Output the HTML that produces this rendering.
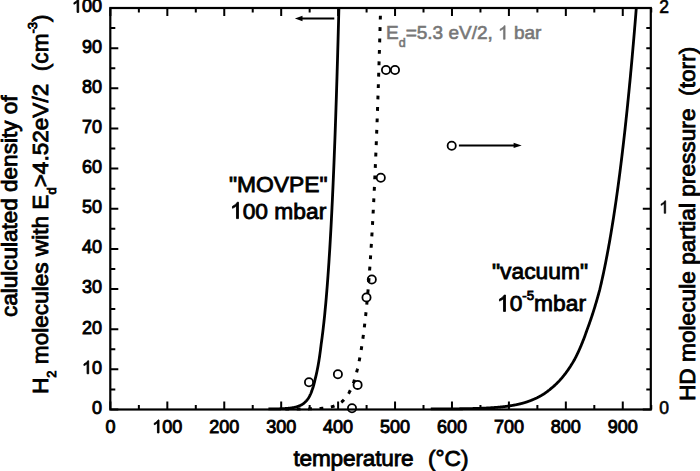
<!DOCTYPE html>
<html><head><meta charset="utf-8"><style>
html,body{margin:0;padding:0;background:#fff;width:700px;height:471px;overflow:hidden}
svg{display:block}
text{font-family:"Liberation Sans", sans-serif}
.s{stroke:#000;stroke-width:0.5}
</style></head><body>
<svg width="700" height="471" viewBox="0 0 700 471" font-family='"Liberation Sans", sans-serif'>
<rect x="110.3" y="8" width="540.50" height="401.5" fill="none" stroke="#000" stroke-width="2.2"/>
<path d="M110.40,409.5 V401.5 M110.40,8 V16 M138.87,409.5 V405.0 M138.87,8 V12.5 M167.33,409.5 V401.5 M167.33,8 V16 M195.80,409.5 V405.0 M195.80,8 V12.5 M224.26,409.5 V401.5 M224.26,8 V16 M252.73,409.5 V405.0 M252.73,8 V12.5 M281.19,409.5 V401.5 M281.19,8 V16 M309.66,409.5 V405.0 M309.66,8 V12.5 M338.12,409.5 V401.5 M338.12,8 V16 M366.59,409.5 V405.0 M366.59,8 V12.5 M395.05,409.5 V401.5 M395.05,8 V16 M423.51,409.5 V405.0 M423.51,8 V12.5 M451.98,409.5 V401.5 M451.98,8 V16 M480.45,409.5 V405.0 M480.45,8 V12.5 M508.91,409.5 V401.5 M508.91,8 V16 M537.38,409.5 V405.0 M537.38,8 V12.5 M565.84,409.5 V401.5 M565.84,8 V16 M594.31,409.5 V405.0 M594.31,8 V12.5 M622.77,409.5 V401.5 M622.77,8 V16 M651.24,409.5 V405.0 M651.24,8 V12.5 M110.3,409.50 H118.3 M110.3,389.43 H115.3 M110.3,369.35 H118.3 M110.3,349.27 H115.3 M110.3,329.20 H118.3 M110.3,309.12 H115.3 M110.3,289.05 H118.3 M110.3,268.98 H115.3 M110.3,248.90 H118.3 M110.3,228.83 H115.3 M110.3,208.75 H118.3 M110.3,188.68 H115.3 M110.3,168.60 H118.3 M110.3,148.53 H115.3 M110.3,128.45 H118.3 M110.3,108.38 H115.3 M110.3,88.30 H118.3 M110.3,68.23 H115.3 M110.3,48.15 H118.3 M110.3,28.08 H115.3 M110.3,8.00 H118.3 M650.8,409.50 H642.8 M650.8,389.43 H646.3 M650.8,369.35 H646.3 M650.8,349.27 H646.3 M650.8,329.20 H646.3 M650.8,309.12 H646.3 M650.8,289.05 H646.3 M650.8,268.98 H646.3 M650.8,248.90 H646.3 M650.8,228.82 H646.3 M650.8,208.75 H642.8 M650.8,188.68 H646.3 M650.8,168.60 H646.3 M650.8,148.52 H646.3 M650.8,128.45 H646.3 M650.8,108.38 H646.3 M650.8,88.30 H646.3 M650.8,68.23 H646.3 M650.8,48.15 H646.3 M650.8,28.07 H646.3 M650.8,8.00 H642.8" stroke="#000" stroke-width="2" fill="none"/>
<g font-size="18" fill="#000" stroke="#000" stroke-width="0.9"><text x="110.40" y="432.90" text-anchor="middle">0</text><text x="167.33" y="432.90" text-anchor="middle"> 00</text><path transform="translate(152.31,432.90) scale(0.00879,-0.00879)" stroke-width="102.4" d="M763,0H583V1147Q518,1085 412.5,1023T223,930V1104Q375,1175 489,1276T650,1472H763Z"/><text x="224.26" y="432.90" text-anchor="middle">200</text><text x="281.19" y="432.90" text-anchor="middle">300</text><text x="338.12" y="432.90" text-anchor="middle">400</text><text x="395.05" y="432.90" text-anchor="middle">500</text><text x="451.98" y="432.90" text-anchor="middle">600</text><text x="508.91" y="432.90" text-anchor="middle">700</text><text x="565.84" y="432.90" text-anchor="middle">800</text><text x="622.77" y="432.90" text-anchor="middle">900</text><text x="102.00" y="413.90" text-anchor="end">0</text><text x="102.00" y="373.75" text-anchor="end"> 0</text><path transform="translate(81.98,373.75) scale(0.00879,-0.00879)" stroke-width="102.4" d="M763,0H583V1147Q518,1085 412.5,1023T223,930V1104Q375,1175 489,1276T650,1472H763Z"/><text x="102.00" y="333.60" text-anchor="end">20</text><text x="102.00" y="293.45" text-anchor="end">30</text><text x="102.00" y="253.30" text-anchor="end">40</text><text x="102.00" y="213.15" text-anchor="end">50</text><text x="102.00" y="173.00" text-anchor="end">60</text><text x="102.00" y="132.85" text-anchor="end">70</text><text x="102.00" y="92.70" text-anchor="end">80</text><text x="102.00" y="52.55" text-anchor="end">90</text><text x="102.00" y="12.40" text-anchor="end"> 00</text><path transform="translate(71.97,12.40) scale(0.00879,-0.00879)" stroke-width="102.4" d="M763,0H583V1147Q518,1085 412.5,1023T223,930V1104Q375,1175 489,1276T650,1472H763Z"/></g>
<g font-size="17.5" fill="#000" stroke="#000" stroke-width="0.6"><text x="659.20" y="414.10" text-anchor="start">0</text><text x="659.20" y="213.35" text-anchor="start"> </text><path transform="translate(659.20,213.35) scale(0.00854,-0.00854)" stroke-width="70.2" d="M763,0H583V1147Q518,1085 412.5,1023T223,930V1104Q375,1175 489,1276T650,1472H763Z"/><text x="659.20" y="12.60" text-anchor="start">2</text></g>
<g font-size="22.8" fill="#000" stroke="#000" stroke-width="0.85"><text x="293.4" y="466" font-size="22.6" textLength="120.3" lengthAdjust="spacing">temperature</text><text x="428" y="466" font-size="22.6">(°C)</text><text transform="translate(16.9,206.3) rotate(-90)" font-size="22.5" text-anchor="middle">calulculated density of</text><text transform="translate(48.2,204.2) rotate(-90)" font-size="22.6" text-anchor="middle">H<tspan font-size="13" dy="8">2</tspan><tspan dy="-8"> molecules with E</tspan><tspan font-size="13" dy="8">d</tspan><tspan dy="-8">&gt;4.52eV/2&#160;&#160;(cm</tspan><tspan font-size="13" dy="-11">-3</tspan><tspan dy="11">)</tspan></text><text transform="translate(695.2,223.9) rotate(-90)" font-size="22.7" text-anchor="middle">HD molecule partial pressure&#160;&#160;(torr)</text><text x="229" y="191.6">"MOVPE"</text><text x="230.00" y="218.60" text-anchor="start"> 00 mbar</text><path transform="translate(230.00,218.60) scale(0.01113,-0.01113)" stroke-width="76.4" d="M763,0H583V1147Q518,1085 412.5,1023T223,930V1104Q375,1175 489,1276T650,1472H763Z"/><text x="492" y="279">"vacuum"</text><text x="497" y="311.4"> 0<tspan font-size="13.2" dy="-11.5">-5</tspan><tspan dy="11.5">mbar</tspan></text><path transform="translate(497.00,311.40) scale(0.01113,-0.01113)" stroke-width="76.4" d="M763,0H583V1147Q518,1085 412.5,1023T223,930V1104Q375,1175 489,1276T650,1472H763Z"/></g>
<path d="M268.40,408.96 L268.68,408.96 L268.97,408.95 L269.25,408.95 L269.54,408.95 L269.82,408.95 L270.11,408.94 L270.39,408.94 L270.68,408.94 L270.96,408.94 L271.25,408.93 L271.53,408.93 L271.82,408.93 L272.11,408.93 L272.39,408.92 L272.67,408.92 L272.96,408.91 L273.25,408.91 L273.53,408.91 L273.81,408.90 L274.10,408.90 L274.38,408.90 L274.67,408.89 L274.95,408.89 L275.24,408.88 L275.52,408.88 L275.81,408.87 L276.10,408.87 L276.38,408.86 L276.66,408.85 L276.95,408.85 L277.24,408.84 L277.52,408.84 L277.80,408.83 L278.09,408.82 L278.38,408.81 L278.66,408.81 L278.94,408.80 L279.23,408.79 L279.51,408.78 L279.80,408.77 L280.08,408.76 L280.37,408.75 L280.65,408.74 L280.94,408.73 L281.23,408.72 L281.51,408.71 L281.79,408.70 L282.08,408.69 L282.37,408.67 L282.65,408.66 L282.93,408.65 L283.22,408.63 L283.50,408.62 L283.79,408.60 L284.07,408.59 L284.36,408.57 L284.64,408.55 L284.93,408.54 L285.21,408.52 L285.50,408.50 L285.78,408.48 L286.07,408.46 L286.36,408.44 L286.64,408.42 L286.92,408.39 L287.21,408.37 L287.50,408.34 L287.78,408.32 L288.06,408.29 L288.35,408.26 L288.63,408.24 L288.92,408.21 L289.20,408.18 L289.49,408.14 L289.77,408.11 L290.06,408.08 L290.35,408.04 L290.63,408.01 L290.91,407.97 L291.19,407.93 L291.47,407.89 L291.75,407.84 L292.03,407.80 L292.31,407.76 L292.59,407.71 L292.87,407.66 L293.15,407.61 L293.42,407.56 L293.70,407.50 L293.98,407.45 L294.26,407.39 L294.54,407.33 L294.81,407.27 L295.09,407.20 L295.37,407.13 L295.64,407.06 L295.92,406.99 L296.19,406.92 L296.47,406.84 L296.75,406.76 L297.02,406.68 L297.29,406.59 L297.57,406.51 L297.84,406.41 L298.12,406.32 L298.39,406.22 L298.66,406.12 L298.93,406.02 L299.20,405.91 L299.47,405.80 L299.75,405.68 L300.02,405.56 L300.28,405.44 L300.55,405.31 L300.82,405.18 L301.09,405.04 L301.36,404.90 L301.62,404.75 L301.89,404.60 L302.16,404.44 L302.42,404.28 L302.68,404.11 L302.95,403.94 L303.20,403.76 L303.46,403.57 L303.71,403.38 L303.96,403.18 L304.22,402.98 L304.47,402.77 L304.72,402.55 L304.97,402.32 L305.21,402.09 L305.46,401.85 L305.71,401.60 L305.95,401.34 L306.19,401.08 L306.43,400.80 L306.67,400.52 L306.91,400.23 L307.15,399.93 L307.38,399.61 L307.62,399.29 L307.85,398.96 L308.09,398.62 L308.33,398.26 L308.56,397.89 L308.80,397.52 L309.03,397.13 L309.26,396.72 L309.49,396.31 L309.72,395.88 L309.94,395.43 L310.17,394.98 L310.39,394.50 L310.61,394.02 L310.83,393.51 L311.04,392.99 L311.26,392.46 L311.47,391.91 L311.68,391.34 L311.88,390.75 L312.09,390.14 L312.31,389.52 L312.54,388.87 L312.76,388.21 L312.98,387.52 L313.21,386.81 L313.42,386.08 L313.64,385.33 L313.85,384.55 L314.07,383.75 L314.28,382.92 L314.48,382.07 L314.69,381.19 L314.89,380.29 L315.09,379.36 L315.33,378.40 L315.58,377.40 L315.83,376.38 L316.09,375.33 L316.34,374.24 L316.59,373.13 L316.84,371.97 L317.09,370.79 L317.33,369.56 L317.58,368.30 L317.83,367.00 L318.07,365.66 L318.32,364.29 L318.56,362.86 L318.80,361.40 L319.05,359.89 L319.29,358.34 L319.53,356.74 L319.76,355.10 L320.00,353.40 L320.24,351.65 L320.47,349.85 L320.70,348.00 L320.93,346.09 L321.18,344.13 L321.47,342.11 L321.75,340.03 L322.04,337.88 L322.32,335.68 L322.61,333.40 L322.89,331.07 L323.18,328.66 L323.46,326.18 L323.75,323.63 L324.03,321.01 L324.32,318.31 L324.61,315.53 L324.89,312.67 L325.17,309.73 L325.46,306.70 L325.75,303.59 L326.03,300.39 L326.31,297.09 L326.60,293.70 L326.88,290.21 L327.17,286.62 L327.45,282.93 L327.74,279.13 L328.02,275.23 L328.31,271.21 L328.59,267.08 L328.88,262.83 L329.16,258.46 L329.45,253.97 L329.74,249.35 L330.02,244.60 L330.30,239.72 L330.59,234.70 L330.88,229.54 L331.16,224.24 L331.44,218.78 L331.73,213.17 L332.01,207.41 L332.30,201.49 L332.58,195.40 L332.87,189.14 L333.15,182.71 L333.44,176.10 L333.73,169.31 L334.01,162.33 L334.29,155.16 L334.58,147.79 L334.87,140.22 L335.15,132.45 L335.43,124.46 L335.72,116.25 L336.00,107.81 L336.29,99.15 L336.57,90.25 L336.86,81.11 L337.14,71.72 L337.43,62.08 L337.71,52.17 L338.00,42.00 L338.28,31.56 L338.57,20.83 L338.86,9.81 L338.90,8.00" fill="none" stroke="#000" stroke-width="2.8"/>
<path d="M430.78,408.96 L431.06,408.96 L431.35,408.96 L431.63,408.96 L431.92,408.96 L432.20,408.96 L432.49,408.96 L432.77,408.95 L433.06,408.95 L433.34,408.95 L433.63,408.95 L433.91,408.95 L434.20,408.95 L434.48,408.95 L434.77,408.95 L435.05,408.95 L435.34,408.95 L435.62,408.95 L435.91,408.95 L436.19,408.94 L436.48,408.94 L436.76,408.94 L437.05,408.94 L437.33,408.94 L437.62,408.94 L437.90,408.94 L438.19,408.94 L438.47,408.94 L438.76,408.93 L439.04,408.93 L439.33,408.93 L439.61,408.93 L439.90,408.93 L440.18,408.93 L440.47,408.93 L440.75,408.93 L441.04,408.92 L441.32,408.92 L441.61,408.92 L441.89,408.92 L442.17,408.92 L442.46,408.92 L442.74,408.92 L443.03,408.91 L443.31,408.91 L443.60,408.91 L443.88,408.91 L444.17,408.91 L444.45,408.91 L444.74,408.91 L445.02,408.90 L445.31,408.90 L445.59,408.90 L445.88,408.90 L446.16,408.90 L446.45,408.89 L446.73,408.89 L447.02,408.89 L447.30,408.89 L447.59,408.89 L447.87,408.89 L448.16,408.88 L448.44,408.88 L448.72,408.88 L449.01,408.88 L449.29,408.88 L449.58,408.87 L449.86,408.87 L450.15,408.87 L450.43,408.87 L450.72,408.86 L451.00,408.86 L451.29,408.86 L451.57,408.86 L451.86,408.85 L452.14,408.85 L452.43,408.85 L452.71,408.85 L453.00,408.84 L453.28,408.84 L453.56,408.84 L453.85,408.84 L454.13,408.83 L454.42,408.83 L454.70,408.83 L454.99,408.83 L455.27,408.82 L455.56,408.82 L455.84,408.82 L456.13,408.81 L456.41,408.81 L456.70,408.81 L456.98,408.80 L457.27,408.80 L457.55,408.80 L457.83,408.79 L458.12,408.79 L458.40,408.79 L458.69,408.78 L458.97,408.78 L459.26,408.78 L459.54,408.77 L459.83,408.77 L460.11,408.77 L460.40,408.76 L460.68,408.76 L460.96,408.75 L461.25,408.75 L461.53,408.75 L461.82,408.74 L462.10,408.74 L462.39,408.73 L462.67,408.73 L462.96,408.72 L463.24,408.72 L463.52,408.72 L463.81,408.71 L464.09,408.71 L464.38,408.70 L464.66,408.70 L464.95,408.69 L465.23,408.69 L465.52,408.68 L465.80,408.68 L466.08,408.67 L466.37,408.67 L466.65,408.66 L466.94,408.66 L467.22,408.65 L467.51,408.64 L467.79,408.64 L468.07,408.63 L468.36,408.63 L468.64,408.62 L468.93,408.62 L469.21,408.61 L469.50,408.60 L469.78,408.60 L470.06,408.59 L470.35,408.58 L470.63,408.58 L470.92,408.57 L471.20,408.56 L471.48,408.56 L471.77,408.55 L472.05,408.54 L472.34,408.54 L472.62,408.53 L472.91,408.52 L473.19,408.51 L473.47,408.51 L473.76,408.50 L474.04,408.49 L474.33,408.48 L474.61,408.48 L474.89,408.47 L475.18,408.46 L475.46,408.45 L475.75,408.44 L476.03,408.43 L476.31,408.42 L476.60,408.42 L476.88,408.41 L477.16,408.40 L477.45,408.39 L477.73,408.38 L478.02,408.37 L478.30,408.36 L478.58,408.35 L478.87,408.34 L479.15,408.33 L479.44,408.32 L479.72,408.31 L480.00,408.30 L480.29,408.29 L480.57,408.28 L480.85,408.27 L481.14,408.26 L481.42,408.25 L481.70,408.23 L481.99,408.22 L482.27,408.21 L482.55,408.20 L482.84,408.19 L483.12,408.17 L483.41,408.16 L483.69,408.15 L483.97,408.14 L484.26,408.12 L484.54,408.11 L484.82,408.10 L485.11,408.08 L485.39,408.07 L485.67,408.06 L485.96,408.04 L486.24,408.03 L486.52,408.01 L486.81,408.00 L487.09,407.99 L487.37,407.97 L487.65,407.96 L487.94,407.94 L488.22,407.92 L488.50,407.91 L488.79,407.89 L489.07,407.88 L489.35,407.86 L489.64,407.84 L489.92,407.83 L490.20,407.81 L490.48,407.79 L490.77,407.77 L491.05,407.76 L491.33,407.74 L491.62,407.72 L491.90,407.70 L492.18,407.68 L492.46,407.66 L492.75,407.64 L493.03,407.62 L493.31,407.61 L493.59,407.59 L493.88,407.56 L494.16,407.54 L494.44,407.52 L494.72,407.50 L495.01,407.48 L495.29,407.46 L495.57,407.44 L495.85,407.41 L496.13,407.39 L496.42,407.37 L496.70,407.35 L496.98,407.32 L497.26,407.30 L497.54,407.27 L497.83,407.25 L498.11,407.23 L498.39,407.20 L498.67,407.17 L498.95,407.15 L499.24,407.12 L499.52,407.10 L499.80,407.07 L500.08,407.04 L500.36,407.02 L500.64,406.99 L500.92,406.96 L501.21,406.93 L501.49,406.90 L501.77,406.87 L502.05,406.84 L502.33,406.81 L502.61,406.78 L502.89,406.75 L503.18,406.72 L503.46,406.69 L503.74,406.66 L504.02,406.62 L504.30,406.59 L504.58,406.56 L504.86,406.52 L505.14,406.49 L505.42,406.46 L505.70,406.42 L505.98,406.39 L506.26,406.35 L506.54,406.31 L506.82,406.28 L507.10,406.24 L507.39,406.20 L507.67,406.16 L507.95,406.12 L508.23,406.08 L508.51,406.05 L508.79,406.00 L509.06,405.96 L509.34,405.92 L509.62,405.88 L509.90,405.84 L510.18,405.80 L510.45,405.75 L510.73,405.71 L511.01,405.66 L511.29,405.62 L511.56,405.57 L511.84,405.53 L512.12,405.48 L512.40,405.43 L512.67,405.39 L512.95,405.34 L513.23,405.29 L513.50,405.24 L513.78,405.19 L514.06,405.14 L514.33,405.09 L514.61,405.04 L514.89,404.98 L515.16,404.93 L515.44,404.87 L515.71,404.82 L515.99,404.76 L516.26,404.71 L516.54,404.65 L516.82,404.59 L517.09,404.54 L517.37,404.48 L517.64,404.42 L517.92,404.36 L518.19,404.30 L518.47,404.24 L518.74,404.17 L519.01,404.11 L519.29,404.05 L519.56,403.98 L519.84,403.92 L520.11,403.85 L520.39,403.78 L520.66,403.71 L520.93,403.65 L521.21,403.58 L521.48,403.51 L521.75,403.43 L522.03,403.36 L522.30,403.29 L522.57,403.22 L522.84,403.14 L523.12,403.07 L523.39,402.99 L523.66,402.91 L523.93,402.83 L524.20,402.75 L524.48,402.67 L524.75,402.59 L525.02,402.51 L525.29,402.43 L525.56,402.34 L525.83,402.26 L526.10,402.17 L526.37,402.09 L526.64,402.00 L526.91,401.91 L527.18,401.82 L527.45,401.73 L527.72,401.63 L527.99,401.54 L528.26,401.45 L528.53,401.35 L528.80,401.26 L529.07,401.16 L529.34,401.06 L529.60,400.96 L529.87,400.86 L530.14,400.76 L530.41,400.65 L530.68,400.55 L530.94,400.44 L531.21,400.33 L531.48,400.23 L531.74,400.12 L532.01,400.01 L532.29,399.89 L532.57,399.78 L532.85,399.66 L533.13,399.55 L533.41,399.43 L533.69,399.31 L533.97,399.19 L534.25,399.07 L534.53,398.95 L534.81,398.82 L535.09,398.70 L535.37,398.57 L535.64,398.44 L535.92,398.31 L536.20,398.18 L536.48,398.05 L536.76,397.91 L537.04,397.78 L537.32,397.64 L537.60,397.50 L537.88,397.36 L538.15,397.22 L538.43,397.08 L538.71,396.93 L538.99,396.78 L539.27,396.63 L539.55,396.48 L539.82,396.33 L540.10,396.18 L540.38,396.02 L540.66,395.87 L540.93,395.71 L541.21,395.55 L541.49,395.38 L541.77,395.22 L542.05,395.05 L542.32,394.89 L542.60,394.72 L542.88,394.55 L543.15,394.37 L543.43,394.20 L543.71,394.02 L543.99,393.84 L544.26,393.66 L544.54,393.48 L544.82,393.29 L545.09,393.10 L545.37,392.91 L545.64,392.72 L545.92,392.53 L546.20,392.33 L546.47,392.14 L546.75,391.94 L547.02,391.73 L547.30,391.53 L547.58,391.32 L547.85,391.11 L548.13,390.90 L548.40,390.69 L548.68,390.48 L548.95,390.26 L549.23,390.04 L549.50,389.81 L549.78,389.59 L550.05,389.36 L550.33,389.13 L550.61,388.90 L550.90,388.67 L551.19,388.43 L551.49,388.19 L551.78,387.95 L552.07,387.70 L552.37,387.45 L552.66,387.20 L552.96,386.95 L553.25,386.69 L553.54,386.44 L553.84,386.18 L554.13,385.91 L554.43,385.65 L554.72,385.38 L555.01,385.10 L555.31,384.83 L555.60,384.55 L555.90,384.27 L556.19,383.99 L556.49,383.70 L556.78,383.41 L557.08,383.12 L557.37,382.82 L557.67,382.52 L557.96,382.22 L558.26,381.91 L558.56,381.60 L558.85,381.29 L559.15,380.98 L559.44,380.66 L559.74,380.34 L560.03,380.01 L560.33,379.68 L560.63,379.35 L560.92,379.02 L561.22,378.68 L561.52,378.34 L561.81,377.99 L562.11,377.64 L562.41,377.29 L562.71,376.93 L563.00,376.57 L563.30,376.21 L563.60,375.84 L563.90,375.47 L564.19,375.09 L564.49,374.71 L564.79,374.33 L565.09,373.94 L565.39,373.55 L565.69,373.16 L565.99,372.76 L566.28,372.35 L566.58,371.95 L566.88,371.54 L567.18,371.12 L567.48,370.70 L567.78,370.28 L568.08,369.85 L568.38,369.42 L568.68,368.98 L568.98,368.54 L569.28,368.09 L569.58,367.64 L569.88,367.19 L570.18,366.73 L570.48,366.26 L570.79,365.80 L571.09,365.32 L571.39,364.84 L571.69,364.36 L571.99,363.87 L572.29,363.38 L572.60,362.88 L572.90,362.38 L573.20,361.87 L573.50,361.36 L573.81,360.84 L574.11,360.32 L574.40,359.79 L574.69,359.26 L574.97,358.72 L575.25,358.18 L575.53,357.63 L575.81,357.08 L576.09,356.52 L576.37,355.95 L576.65,355.38 L576.94,354.80 L577.22,354.22 L577.50,353.63 L577.78,353.04 L578.06,352.44 L578.34,351.83 L578.62,351.22 L578.90,350.60 L579.18,349.98 L579.46,349.35 L579.74,348.72 L580.03,348.07 L580.31,347.43 L580.59,346.77 L580.87,346.11 L581.15,345.44 L581.43,344.77 L581.71,344.09 L581.99,343.40 L582.27,342.71 L582.55,342.01 L582.83,341.30 L583.11,340.59 L583.39,339.87 L583.67,339.14 L583.95,338.41 L584.23,337.67 L584.51,336.92 L584.79,336.16 L585.07,335.40 L585.35,334.63 L585.63,333.85 L585.91,333.07 L586.19,332.28 L586.47,331.48 L586.75,330.67 L587.03,329.85 L587.34,329.03 L587.65,328.20 L587.96,327.36 L588.27,326.51 L588.59,325.66 L588.90,324.80 L589.21,323.93 L589.52,323.05 L589.83,322.16 L590.14,321.26 L590.45,320.36 L590.77,319.45 L591.08,318.53 L591.39,317.60 L591.71,316.66 L592.02,315.71 L592.33,314.75 L592.65,313.79 L592.96,312.82 L593.28,311.83 L593.59,310.84 L593.90,309.84 L594.22,308.83 L594.54,307.81 L594.85,306.78 L595.17,305.74 L595.48,304.69 L595.80,303.63 L596.12,302.56 L596.44,301.48 L596.75,300.40 L597.07,299.30 L597.39,298.19 L597.71,297.07 L598.03,295.94 L598.35,294.80 L598.67,293.65 L598.99,292.49 L599.31,291.32 L599.63,290.14 L599.91,288.95 L600.20,287.74 L600.48,286.53 L600.77,285.30 L601.05,284.07 L601.34,282.82 L601.62,281.56 L601.91,280.29 L602.19,279.01 L602.48,277.72 L602.76,276.41 L603.05,275.09 L603.34,273.76 L603.62,272.42 L603.90,271.07 L604.19,269.70 L604.47,268.33 L604.76,266.94 L605.04,265.53 L605.33,264.12 L605.62,262.69 L605.90,261.25 L606.18,259.80 L606.47,258.33 L606.75,256.85 L607.04,255.36 L607.32,253.85 L607.61,252.33 L607.89,250.80 L608.18,249.25 L608.46,247.69 L608.75,246.11 L609.03,244.52 L609.32,242.92 L609.61,241.31 L609.89,239.67 L610.17,238.03 L610.46,236.37 L610.74,234.69 L611.03,233.00 L611.31,231.30 L611.60,229.58 L611.88,227.85 L612.17,226.10 L612.45,224.33 L612.74,222.55 L613.02,220.75 L613.31,218.94 L613.60,217.11 L613.88,215.27 L614.16,213.41 L614.45,211.53 L614.73,209.64 L615.02,207.73 L615.30,205.81 L615.59,203.86 L615.88,201.90 L616.16,199.93 L616.44,197.93 L616.73,195.92 L617.01,193.89 L617.30,191.85 L617.59,189.79 L617.87,187.70 L618.15,185.61 L618.44,183.49 L618.72,181.35 L619.01,179.20 L619.29,177.03 L619.58,174.84 L619.87,172.63 L620.15,170.40 L620.43,168.15 L620.72,165.88 L621.00,163.60 L621.29,161.29 L621.57,158.97 L621.86,156.62 L622.14,154.26 L622.43,151.87 L622.71,149.46 L623.00,147.04 L623.28,144.59 L623.57,142.12 L623.85,139.64 L624.14,137.13 L624.42,134.60 L624.71,132.04 L625.00,129.47 L625.28,126.87 L625.56,124.26 L625.85,121.62 L626.13,118.96 L626.42,116.27 L626.70,113.57 L626.99,110.84 L627.27,108.09 L627.56,105.31 L627.84,102.51 L628.13,99.69 L628.41,96.85 L628.70,93.98 L628.98,91.09 L629.27,88.17 L629.55,85.23 L629.84,82.26 L630.12,79.27 L630.41,76.26 L630.69,73.22 L630.98,70.16 L631.26,67.07 L631.55,63.95 L631.83,60.81 L632.12,57.64 L632.40,54.45 L632.69,51.23 L632.97,47.98 L633.26,44.71 L633.54,41.41 L633.83,38.08 L634.12,34.73 L634.40,31.35 L634.68,27.94 L634.97,24.50 L635.25,21.03 L635.54,17.54 L635.82,14.02 L636.11,10.47 L636.31,8.00" fill="none" stroke="#000" stroke-width="2.8"/>
<path d="M380.60,8.00 L380.46,13.23 L380.32,18.51 L380.18,23.72 L380.04,28.86 L379.89,33.94 L379.75,38.95 L379.61,43.90 L379.47,48.78 L379.32,53.61 L379.18,58.37 L379.04,63.07 L378.90,67.71 L378.75,72.29 L378.61,76.82 L378.47,81.28 L378.33,85.69 L378.19,90.05 L378.04,94.34 L377.90,98.59 L377.76,102.77 L377.61,106.91 L377.47,110.99 L377.33,115.02 L377.19,118.99 L377.04,122.92 L376.90,126.79 L376.76,130.62 L376.62,134.39 L376.47,138.12 L376.33,141.80 L376.19,145.43 L376.05,149.01 L375.90,152.55 L375.76,156.04 L375.62,159.49 L375.48,162.89 L375.33,166.25 L375.19,169.56 L375.05,172.84 L374.91,176.06 L374.76,179.25 L374.62,182.40 L374.48,185.50 L374.34,188.56 L374.19,191.59 L374.05,194.57 L373.91,197.52 L373.77,200.43 L373.62,203.29 L373.48,206.13 L373.34,208.92 L373.20,211.68 L373.05,214.40 L372.91,217.09 L372.77,219.74 L372.63,222.35 L372.48,224.93 L372.34,227.48 L372.20,229.99 L372.06,232.47 L371.91,234.92 L371.77,237.34 L371.63,239.72 L371.49,242.07 L371.34,244.40 L371.20,246.69 L371.06,248.95 L370.92,251.18 L370.77,253.38 L370.63,255.55 L370.49,257.69 L370.35,259.80 L370.20,261.89 L370.06,263.95 L369.92,265.98 L369.78,267.98 L369.63,269.96 L369.49,271.91 L369.35,273.83 L369.21,275.73 L369.06,277.61 L368.92,279.45 L368.78,281.28 L368.64,283.08 L368.50,284.85 L368.35,286.60 L368.21,288.33 L368.07,290.04 L367.92,291.72 L367.78,293.38 L367.64,295.01 L367.50,296.63 L367.35,298.22 L367.21,299.79 L367.07,301.34 L366.93,302.87 L366.78,304.38 L366.64,305.87 L366.50,307.33 L366.36,308.78 L366.21,310.21 L366.07,311.62 L365.93,313.01 L365.79,314.38 L365.64,315.73 L365.50,317.06 L365.36,318.38 L365.22,319.68 L365.07,320.96 L364.93,322.22 L364.79,323.47 L364.65,324.69 L364.50,325.90 L364.36,327.10 L364.22,328.28 L364.08,329.44 L363.93,330.59 L363.79,331.72 L363.65,332.83 L363.51,333.93 L363.37,335.02 L363.22,336.09 L363.08,337.14 L362.94,338.18 L362.79,339.21 L362.65,340.22 L362.51,341.22 L362.37,342.20 L362.22,343.17 L362.08,344.13 L361.94,345.07 L361.80,346.00 L361.65,346.92 L361.51,347.83 L361.37,348.72 L361.23,349.60 L361.08,350.47 L360.94,351.32 L360.80,352.17 L360.66,353.00 L360.51,353.82 L360.37,354.63 L360.23,355.43 L360.09,356.21 L359.94,356.99 L359.80,357.75 L359.66,358.51 L359.52,359.25 L359.38,359.98 L359.23,360.71 L359.09,361.42 L358.95,362.12 L358.80,362.81 L358.66,363.50 L358.52,364.17 L358.38,364.83 L358.24,365.49 L358.09,366.13 L357.95,366.77 L357.81,367.40 L357.66,368.01 L357.52,368.62 L357.38,369.22 L357.24,369.82 L357.09,370.40 L356.95,370.97 L356.81,371.54 L356.67,372.10 L356.52,372.65 L356.38,373.20 L356.24,373.73 L356.10,374.26 L355.95,374.78 L355.81,375.29 L355.67,375.80 L355.53,376.30 L355.38,376.79 L355.24,377.27 L355.10,377.75 L354.96,378.22 L354.81,378.68 L354.67,379.14 L354.53,379.59 L354.39,380.04 L354.25,380.47 L354.10,380.91 L353.96,381.33 L353.82,381.75 L353.67,382.16 L353.53,382.57 L353.39,382.97 L353.25,383.37 L353.11,383.76 L352.96,384.14 L352.82,384.52 L352.68,384.89 L352.53,385.26 L352.39,385.62 L352.25,385.98 L352.11,386.33 L351.96,386.67 L351.82,387.02 L351.68,387.35 L351.54,387.68 L351.39,388.01 L351.25,388.33 L351.11,388.65 L350.97,388.96 L350.82,389.27 L350.68,389.57 L350.54,389.87 L350.40,390.17 L350.25,390.46 L350.11,390.74 L349.97,391.03 L349.83,391.30 L349.68,391.58 L349.54,391.85 L349.40,392.11 L349.26,392.37 L349.12,392.63 L348.97,392.89 L348.83,393.14 L348.69,393.38 L348.54,393.62 L348.40,393.86 L348.26,394.10 L348.12,394.33 L347.97,394.56 L347.83,394.79 L347.69,395.01 L347.55,395.23 L347.40,395.44 L347.26,395.65 L347.12,395.86 L346.98,396.07 L346.83,396.27 L346.69,396.47 L346.55,396.67 L346.41,396.86 L346.26,397.05 L346.12,397.24 L345.98,397.43 L345.84,397.61 L345.69,397.79 L345.55,397.96 L345.41,398.14 L345.27,398.31 L345.12,398.48 L344.98,398.65 L344.84,398.81 L344.70,398.97 L344.55,399.13 L344.41,399.29 L344.27,399.44 L344.13,399.59 L343.99,399.74 L343.84,399.89 L343.70,400.04 L343.56,400.18 L343.41,400.32 L343.27,400.46 L343.13,400.59 L342.99,400.73 L342.84,400.86 L342.70,400.99 L342.56,401.12 L342.42,401.25 L342.27,401.37 L342.13,401.49 L341.99,401.61 L341.85,401.73 L341.70,401.85 L341.56,401.97 L341.42,402.08 L341.28,402.19 L341.13,402.30 L340.99,402.41 L340.85,402.51 L340.71,402.62 L340.56,402.72 L340.42,402.82 L340.28,402.92 L340.14,403.02 L340.00,403.12 L339.85,403.22 L339.71,403.31 L339.57,403.40 L339.42,403.49 L339.28,403.58 L339.14,403.67 L339.00,403.76 L338.86,403.84 L338.71,403.93 L338.57,404.01 L338.43,404.09 L338.28,404.17 L338.14,404.25 L338.00,404.33 L337.86,404.41 L337.71,404.48 L337.57,404.56 L337.43,404.63 L337.29,404.70 L337.14,404.77 L337.00,404.84 L336.86,404.91 L336.72,404.98 L336.57,405.05 L336.43,405.11 L336.29,405.18 L336.15,405.24 L336.00,405.30 L335.86,405.36 L335.72,405.42 L335.58,405.48 L335.43,405.54 L335.29,405.60 L335.15,405.65 L335.01,405.71 L334.87,405.77 L334.72,405.82 L334.58,405.87 L334.44,405.92 L334.29,405.98 L334.15,406.03 L334.01,406.08 L333.87,406.13 L333.73,406.17 L333.58,406.22 L333.44,406.27 L333.30,406.31 L333.15,406.36 L333.01,406.40 L332.87,406.45 L332.73,406.49 L332.58,406.53 L332.44,406.57 L332.30,406.62 L332.16,406.66 L332.01,406.70 L331.87,406.73 L331.73,406.77 L331.59,406.81 L331.44,406.85 L331.30,406.88 L331.16,406.92 L331.02,406.96 L330.88,406.99 L330.73,407.02 L330.59,407.06 L330.45,407.09 L330.30,407.12 L330.16,407.16 L330.02,407.19 L329.88,407.22 L329.74,407.25 L329.59,407.28 L329.45,407.31 L329.31,407.34 L329.16,407.37 L329.02,407.39 L328.88,407.42 L328.74,407.45 L328.59,407.48 L328.45,407.50 L328.31,407.53 L328.17,407.55 L328.02,407.58 L327.88,407.60 L327.74,407.63 L327.60,407.65 L327.45,407.67 L327.31,407.70 L327.17,407.72 L327.03,407.74 L326.88,407.76 L326.74,407.79 L326.60,407.81 L326.46,407.83 L326.31,407.85 L326.17,407.87 L326.03,407.89 L325.89,407.91 L325.75,407.93 L325.60,407.95 L325.46,407.96 L325.32,407.98 L325.17,408.00 L325.03,408.02 L324.89,408.03 L324.75,408.05 L324.61,408.07 L324.46,408.08 L324.32,408.10 L324.18,408.12 L324.03,408.13 L323.89,408.15 L323.75,408.16 L323.61,408.18 L323.46,408.19 L323.32,408.21 L323.18,408.22 L323.04,408.23 L322.89,408.25 L322.75,408.26 L322.61,408.27 L322.47,408.29 L322.32,408.30 L322.18,408.31 L322.04,408.32 L321.90,408.34 L321.75,408.35 L321.61,408.36 L321.47,408.37 L321.33,408.38 L321.18,408.39 L321.04,408.41 L320.90,408.42 L320.76,408.43 L320.62,408.44 L320.47,408.45 L320.33,408.46 L320.19,408.47 L320.04,408.48 L319.90,408.49 L319.76,408.49 L319.62,408.50 L319.48,408.51 L319.33,408.52 L319.19,408.53 L319.05,408.54 L318.90,408.55 L318.76,408.56 L318.62,408.56 L318.48,408.57 L318.33,408.58 L318.19,408.59 L318.05,408.59 L317.91,408.60 L317.76,408.61 L317.62,408.62 L317.48,408.62 L317.34,408.63 L317.19,408.64 L317.05,408.64 L316.91,408.65 L316.77,408.66 L316.62,408.66 L316.48,408.67 L316.34,408.68 L316.20,408.68 L316.05,408.69 L315.91,408.69 L315.77,408.70 L315.63,408.70 L315.49,408.71 L315.34,408.71 L315.20,408.72 L315.06,408.73 L314.91,408.73 L314.77,408.74 L314.63,408.74 L314.49,408.75 L314.34,408.75 L314.20,408.75 L314.06,408.76 L313.92,408.76 L313.77,408.77 L313.63,408.77 L313.49,408.78 L313.35,408.78 L313.20,408.79 L313.06,408.79 L312.92,408.79 L312.78,408.80 L312.63,408.80 L312.49,408.80 L312.35,408.81 L312.21,408.81 L312.06,408.82 L311.92,408.82 L311.78,408.82 L311.64,408.83 L311.50,408.83 L311.35,408.83 L311.21,408.84 L311.07,408.84 L310.92,408.84 L310.78,408.84 L310.64,408.85 L310.50,408.85 L310.36,408.85 L310.21,408.86 L310.07,408.86 L309.93,408.86 L309.78,408.86 L309.64,408.87 L309.50,408.87 L309.36,408.87 L309.21,408.87 L309.07,408.88 L308.93,408.88 L308.79,408.88 L308.64,408.88 L308.50,408.89 L308.36,408.89 L308.22,408.89 L308.07,408.89 L307.93,408.89 L307.79,408.90 L307.65,408.90 L307.50,408.90 L307.36,408.90 L307.22,408.90 L307.08,408.91 L306.93,408.91 L306.79,408.91 L306.65,408.91 L306.51,408.91 L306.37,408.91 L306.22,408.92 L306.08,408.92 L305.94,408.92 L305.79,408.92 L305.65,408.92 L305.51,408.92 L305.37,408.93 L305.23,408.93 L305.08,408.93 L304.94,408.93 L304.80,408.93 L304.65,408.93 L304.51,408.93 L304.37,408.94 L304.23,408.94 L304.08,408.94 L303.94,408.94 L303.80,408.94 L303.66,408.94 L303.51,408.94 L303.37,408.94 L303.23,408.94 L303.09,408.95 L302.94,408.95 L302.80,408.95 L302.66,408.95 L302.52,408.95 L302.38,408.95 L302.23,408.95 L302.09,408.95 L301.95,408.95 L301.80,408.95 L301.66,408.96 L301.52,408.96 L301.38,408.96 L301.24,408.96 L301.09,408.96 L300.95,408.96 L300.81,408.96 L300.66,408.96 L300.52,408.96 L300.38,408.96 L300.24,408.96 L300.09,408.96 L299.95,408.97 L299.81,408.97 L299.67,408.97 L299.52,408.97 L299.38,408.97 L299.24,408.97 L299.10,408.97 L298.95,408.97 L298.81,408.97 L298.67,408.97 L298.53,408.97 L298.38,408.97 L298.24,408.97 L298.10,408.97 L297.96,408.97 L297.81,408.97 L297.67,408.98 L297.53,408.98 L297.39,408.98 L297.25,408.98 L297.10,408.98 L296.96,408.98 L296.82,408.98 L296.67,408.98 L296.53,408.98 L296.39,408.98 L296.25,408.98 L296.11,408.98 L295.96,408.98 L295.82,408.98 L295.68,408.98 L295.53,408.98 L295.39,408.98 L295.25,408.98 L295.11,408.98 L294.96,408.98 L294.82,408.98 L294.68,408.98 L294.54,408.98 L294.39,408.98 L294.25,408.98 L294.11,408.99 L293.97,408.99 L293.82,408.99 L293.68,408.99 L293.54,408.99 L293.40,408.99 L293.25,408.99 L293.11,408.99 L292.97,408.99 L292.83,408.99 L292.68,408.99 L292.54,408.99 L292.40,408.99 L292.26,408.99 L292.12,408.99 L291.97,408.99 L291.83,408.99 L291.69,408.99 L291.54,408.99 L291.40,408.99 L291.26,408.99 L291.12,408.99 L290.98,408.99 L290.83,408.99 L290.69,408.99 L290.55,408.99 L290.40,408.99 L290.26,408.99 L290.12,408.99 L289.98,408.99 L289.83,408.99 L289.69,408.99 L289.55,408.99 L289.41,408.99 L289.26,408.99 L289.12,408.99 L288.98,408.99 L288.84,408.99 L288.69,408.99 L288.55,408.99 L288.41,408.99 L288.27,408.99 L288.12,408.99 L287.98,408.99 L287.84,408.99 L287.70,408.99 L287.55,408.99 L287.41,408.99 L287.27,408.99 L287.13,408.99 L286.99,408.99 L286.84,409.00 L286.70,409.00 L286.56,409.00 L286.41,409.00 L286.27,409.00 L286.13,409.00 L285.99,409.00 L285.85,409.00 L285.70,409.00 L285.56,409.00 L285.42,409.00 L285.27,409.00 L285.13,409.00 L284.99,409.00 L284.85,409.00 L284.70,409.00 L284.56,409.00 L284.42,409.00 L284.28,409.00 L284.13,409.00 L283.99,409.00 L283.85,409.00 L283.71,409.00 L283.56,409.00 L283.42,409.00 L283.28,409.00 L283.14,409.00 L283.00,409.00 L282.85,409.00 L282.71,409.00 L282.57,409.00 L282.42,409.00 L282.28,409.00 L282.14,409.00 L282.00,409.00 L281.86,409.00 L281.71,409.00 L281.57,409.00 L281.43,409.00 L281.28,409.00 L281.14,409.00 L281.00,409.00" fill="none" stroke="#000" stroke-width="3" stroke-dasharray="3.8 7.62" stroke-dashoffset="3.7"/>
<g fill="none" stroke="#000" stroke-width="1.8"><circle cx="309" cy="382.3" r="4.1"/><circle cx="337.9" cy="374.3" r="4.1"/><circle cx="352" cy="408.3" r="4.1"/><circle cx="357.6" cy="384.9" r="4.1"/><circle cx="366.5" cy="297.5" r="4.1"/><circle cx="371.8" cy="279.5" r="4.1"/><circle cx="380.8" cy="177.8" r="4.1"/><circle cx="386" cy="70" r="4.1"/><circle cx="395" cy="70" r="4.1"/><circle cx="451.7" cy="145.7" r="4.1"/></g>
<path d="M334.3,18.5 H300" stroke="#000" stroke-width="2"/>
<path d="M294.9,18.5 L302.5,15.8 L302.5,21.2 Z" fill="#000"/>
<path d="M458.9,145.4 H515" stroke="#000" stroke-width="2"/>
<path d="M521.7,145.4 L513.6,142.7 L513.6,148.1 Z" fill="#000"/>
<g fill="#777" stroke="#777" stroke-width="0.6"><text x="386" y="39.3" font-size="19">E<tspan font-size="12.5" dy="7.5">d</tspan><tspan dy="-7.5">=5.3 eV/2,   bar</tspan></text><path transform="translate(498.05,39.30) scale(0.00928,-0.00928)" stroke-width="64.7" d="M763,0H583V1147Q518,1085 412.5,1023T223,930V1104Q375,1175 489,1276T650,1472H763Z"/></g>
</svg>
</body></html>
